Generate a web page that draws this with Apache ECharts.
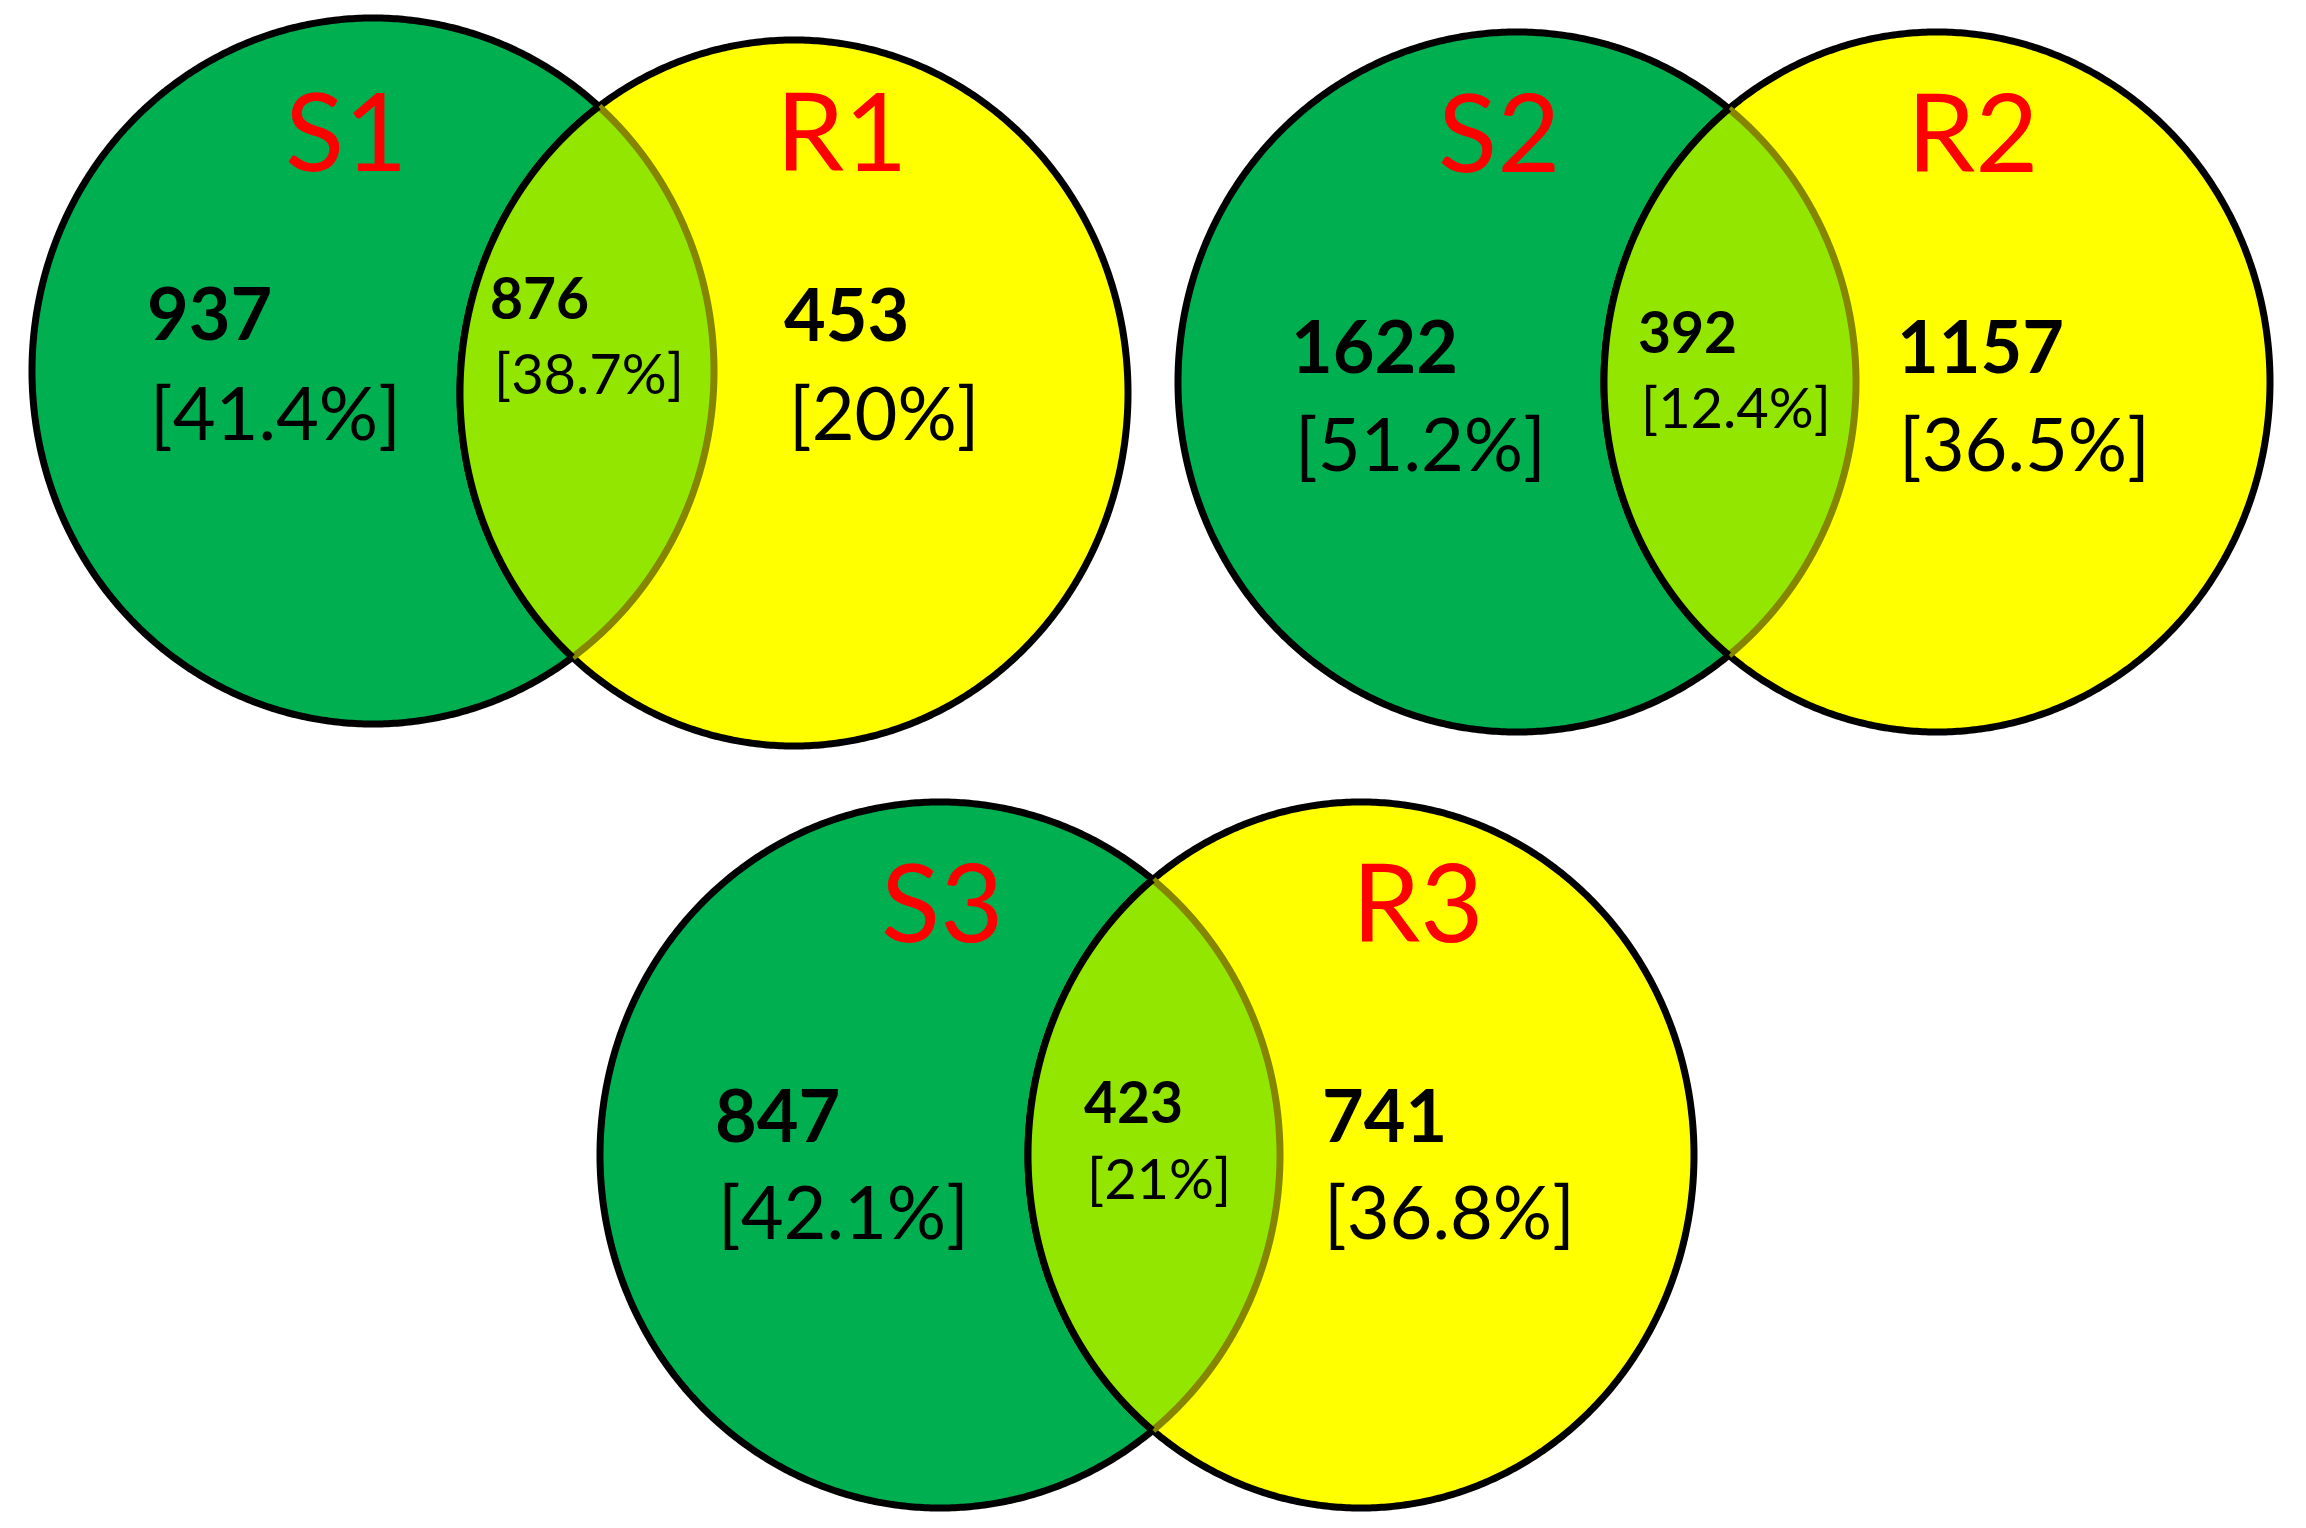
<!DOCTYPE html>
<html>
<head>
<meta charset="utf-8">
<script src="https://cdn.jsdelivr.net/npm/echarts@6/dist/echarts.min.js"></script>
<style>
html,body{margin:0;padding:0;background:#fff;}
#chart{width:2306px;height:1528px;}
</style>
</head>
<body>
<div id="chart"></div>
<script>
// ---- data ----
const leftNames = ['S1', 'S2', 'S3'];
const rightNames = ['R1', 'R2', 'R3'];
const onlyLeft = [937, 1622, 847];
const shared = [876, 392, 423];
const onlyRight = [453, 1157, 741];
const pctLeft = ['41.4%', '51.2%', '42.1%'];
const pctShared = ['38.7%', '12.4%', '21%'];
const pctRight = ['20%', '36.5%', '36.8%'];

// ---- layout (axis units = pixels of the canvas) ----
const layout = [
  { s: [373, 371, 341, 353], r: [794, 393, 334, 353],
    title: [[285, 136], [776, 136]],
    nums: [[147, 317], [490, 301], [784, 318]],
    pcts: [[150, 416], [494, 376], [789, 416]] },
  { s: [1517, 382, 339, 350], r: [1937, 382, 333, 350],
    title: [[1438, 137], [1907, 137]],
    nums: [[1291, 350], [1638, 335], [1897, 350]],
    pcts: [[1295, 447], [1641, 410], [1899, 447]] },
  { s: [940, 1155, 340, 353], r: [1361, 1155, 333, 353],
    title: [[881, 907], [1352, 907]],
    nums: [[715, 1119], [1084, 1105], [1322, 1119]],
    pcts: [[718, 1215], [1087, 1181], [1324, 1215]] }
];

const GREEN = '#00B050', YELLOW = '#FFFF00', LENS = '#92E600', OLIVE = '#858500', RED = '#FF0000';
const FONT = 'Lato, "Open Sans", sans-serif';
const LW = 7;

function renderItem(params, api) {
  const i = api.value(0);
  const L = layout[i];
  const N = 720;
  function pt(e, t) { return [e[0] + e[2] * Math.cos(t), e[1] + e[3] * Math.sin(t)]; }
  function inside(e, p) {
    const dx = (p[0] - e[0]) / e[2], dy = (p[1] - e[1]) / e[3];
    return dx * dx + dy * dy <= 1;
  }
  function full(e) {
    const a = [];
    for (let k = 0; k < N; k++) a.push(api.coord(pt(e, 2 * Math.PI * k / N)));
    return a;
  }
  function arc(e, other, t0, t1) {
    const a = [];
    const M = 2000;
    for (let k = 0; k <= M; k++) {
      const p = pt(e, t0 + (t1 - t0) * k / M);
      if (inside(other, p)) a.push(api.coord(p));
    }
    return a;
  }
  const rArc = arc(L.r, L.s, Math.PI / 2, 3 * Math.PI / 2); // bottom -> left -> top
  const sArc = arc(L.s, L.r, -Math.PI / 2, Math.PI / 2);    // top -> right -> bottom
  const children = [
    { type: 'polygon', shape: { points: full(L.s) }, style: { fill: GREEN, stroke: '#000', lineWidth: LW } },
    { type: 'polygon', shape: { points: full(L.r) }, style: { fill: YELLOW, stroke: '#000', lineWidth: LW } },
    { type: 'polygon', shape: { points: rArc.concat(sArc) }, style: { fill: LENS } },
    { type: 'polyline', shape: { points: sArc }, style: { fill: null, stroke: OLIVE, lineWidth: LW } },
    { type: 'polyline', shape: { points: rArc }, style: { fill: null, stroke: '#000', lineWidth: LW } }
  ];
  function txt(pos, text, font, color) {
    const c = api.coord(pos);
    children.push({ type: 'text', x: c[0], y: c[1],
      style: { text: text, font: font, fill: color, align: 'left', verticalAlign: 'middle' } });
  }
  txt(L.title[0], leftNames[i], '109px ' + FONT, RED);
  txt(L.title[1], rightNames[i], '109px ' + FONT, RED);
  txt(L.nums[0], String(onlyLeft[i]), 'bold 72px ' + FONT, '#000');
  txt(L.nums[1], String(shared[i]), 'bold 57px ' + FONT, '#000');
  txt(L.nums[2], String(onlyRight[i]), 'bold 72px ' + FONT, '#000');
  txt(L.pcts[0], '[' + pctLeft[i] + ']', '74px ' + FONT, '#000');
  txt(L.pcts[1], '[' + pctShared[i] + ']', '56px ' + FONT, '#000');
  txt(L.pcts[2], '[' + pctRight[i] + ']', '74px ' + FONT, '#000');
  return { type: 'group', children: children };
}

const chart = echarts.init(document.getElementById('chart'));
chart.setOption({
  backgroundColor: '#fff',
  animation: false,
  grid: { left: 0, right: 0, top: 0, bottom: 0 },
  xAxis: { type: 'value', min: 0, max: 2306, show: false },
  yAxis: { type: 'value', min: 0, max: 1528, inverse: true, show: false },
  series: [{
    type: 'custom',
    renderItem: renderItem,
    clip: false,
    silent: true,
    encode: { x: 1, y: 2 },
    data: leftNames.map((n, i) => [i, 0, 0])
  }]
});
</script>
</body>
</html>
